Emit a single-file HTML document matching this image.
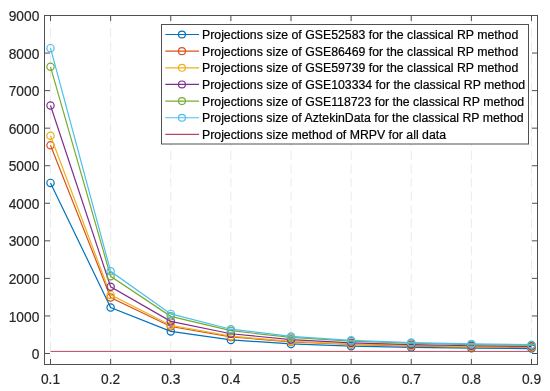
<!DOCTYPE html>
<html><head><meta charset="utf-8"><style>html,body{margin:0;padding:0;background:#fff;width:550px;height:391px;overflow:hidden;position:relative}</style></head>
<body>
<svg width="550" height="391" viewBox="0 0 550 391" style="position:absolute;left:0;top:0">
<rect width="550" height="391" fill="#fff"/>
<line x1="50.5" y1="15.5" x2="50.5" y2="364.5" stroke="#ebebeb" stroke-width="1" stroke-dasharray="9.3 4.32" stroke-dashoffset="1.02"/>
<line x1="110.625" y1="15.5" x2="110.625" y2="364.5" stroke="#ebebeb" stroke-width="1" stroke-dasharray="9.3 4.32" stroke-dashoffset="1.02"/>
<line x1="170.75" y1="15.5" x2="170.75" y2="364.5" stroke="#ebebeb" stroke-width="1" stroke-dasharray="9.3 4.32" stroke-dashoffset="1.02"/>
<line x1="230.87500000000003" y1="15.5" x2="230.87500000000003" y2="364.5" stroke="#ebebeb" stroke-width="1" stroke-dasharray="9.3 4.32" stroke-dashoffset="1.02"/>
<line x1="291.0" y1="15.5" x2="291.0" y2="364.5" stroke="#ebebeb" stroke-width="1" stroke-dasharray="9.3 4.32" stroke-dashoffset="1.02"/>
<line x1="351.125" y1="15.5" x2="351.125" y2="364.5" stroke="#ebebeb" stroke-width="1" stroke-dasharray="9.3 4.32" stroke-dashoffset="1.02"/>
<line x1="411.25" y1="15.5" x2="411.25" y2="364.5" stroke="#ebebeb" stroke-width="1" stroke-dasharray="9.3 4.32" stroke-dashoffset="1.02"/>
<line x1="471.37500000000006" y1="15.5" x2="471.37500000000006" y2="364.5" stroke="#ebebeb" stroke-width="1" stroke-dasharray="9.3 4.32" stroke-dashoffset="1.02"/>
<line x1="531.5" y1="15.5" x2="531.5" y2="364.5" stroke="#ebebeb" stroke-width="1" stroke-dasharray="9.3 4.32" stroke-dashoffset="1.02"/>
<polyline points="50.50,182.89 110.62,307.57 170.75,331.38 230.88,339.93 291.00,343.95 351.12,346.13 411.25,347.41 471.38,348.17 531.50,348.59" fill="none" stroke="#0072BD" stroke-width="1.2"/>
<circle cx="50.50" cy="182.89" r="3.65" fill="none" stroke="#0072BD" stroke-width="1.2"/>
<circle cx="110.62" cy="307.57" r="3.65" fill="none" stroke="#0072BD" stroke-width="1.2"/>
<circle cx="170.75" cy="331.38" r="3.65" fill="none" stroke="#0072BD" stroke-width="1.2"/>
<circle cx="230.88" cy="339.93" r="3.65" fill="none" stroke="#0072BD" stroke-width="1.2"/>
<circle cx="291.00" cy="343.95" r="3.65" fill="none" stroke="#0072BD" stroke-width="1.2"/>
<circle cx="351.12" cy="346.13" r="3.65" fill="none" stroke="#0072BD" stroke-width="1.2"/>
<circle cx="411.25" cy="347.41" r="3.65" fill="none" stroke="#0072BD" stroke-width="1.2"/>
<circle cx="471.38" cy="348.17" r="3.65" fill="none" stroke="#0072BD" stroke-width="1.2"/>
<circle cx="531.50" cy="348.59" r="3.65" fill="none" stroke="#0072BD" stroke-width="1.2"/>
<polyline points="50.50,145.29 110.62,297.44 170.75,326.51 230.88,336.94 291.00,341.84 351.12,344.50 411.25,346.06 471.38,346.99 531.50,347.50" fill="none" stroke="#D95319" stroke-width="1.2"/>
<circle cx="50.50" cy="145.29" r="3.65" fill="none" stroke="#D95319" stroke-width="1.2"/>
<circle cx="110.62" cy="297.44" r="3.65" fill="none" stroke="#D95319" stroke-width="1.2"/>
<circle cx="170.75" cy="326.51" r="3.65" fill="none" stroke="#D95319" stroke-width="1.2"/>
<circle cx="230.88" cy="336.94" r="3.65" fill="none" stroke="#D95319" stroke-width="1.2"/>
<circle cx="291.00" cy="341.84" r="3.65" fill="none" stroke="#D95319" stroke-width="1.2"/>
<circle cx="351.12" cy="344.50" r="3.65" fill="none" stroke="#D95319" stroke-width="1.2"/>
<circle cx="411.25" cy="346.06" r="3.65" fill="none" stroke="#D95319" stroke-width="1.2"/>
<circle cx="471.38" cy="346.99" r="3.65" fill="none" stroke="#D95319" stroke-width="1.2"/>
<circle cx="531.50" cy="347.50" r="3.65" fill="none" stroke="#D95319" stroke-width="1.2"/>
<polyline points="50.50,135.80 110.62,294.89 170.75,325.28 230.88,336.18 291.00,341.31 351.12,344.09 411.25,345.72 471.38,346.70 531.50,347.23" fill="none" stroke="#EDB120" stroke-width="1.2"/>
<circle cx="50.50" cy="135.80" r="3.65" fill="none" stroke="#EDB120" stroke-width="1.2"/>
<circle cx="110.62" cy="294.89" r="3.65" fill="none" stroke="#EDB120" stroke-width="1.2"/>
<circle cx="170.75" cy="325.28" r="3.65" fill="none" stroke="#EDB120" stroke-width="1.2"/>
<circle cx="230.88" cy="336.18" r="3.65" fill="none" stroke="#EDB120" stroke-width="1.2"/>
<circle cx="291.00" cy="341.31" r="3.65" fill="none" stroke="#EDB120" stroke-width="1.2"/>
<circle cx="351.12" cy="344.09" r="3.65" fill="none" stroke="#EDB120" stroke-width="1.2"/>
<circle cx="411.25" cy="345.72" r="3.65" fill="none" stroke="#EDB120" stroke-width="1.2"/>
<circle cx="471.38" cy="346.70" r="3.65" fill="none" stroke="#EDB120" stroke-width="1.2"/>
<circle cx="531.50" cy="347.23" r="3.65" fill="none" stroke="#EDB120" stroke-width="1.2"/>
<polyline points="50.50,105.50 110.62,286.73 170.75,321.35 230.88,333.77 291.00,339.61 351.12,342.78 411.25,344.64 471.38,345.75 531.50,346.36" fill="none" stroke="#7E2F8E" stroke-width="1.2"/>
<circle cx="50.50" cy="105.50" r="3.65" fill="none" stroke="#7E2F8E" stroke-width="1.2"/>
<circle cx="110.62" cy="286.73" r="3.65" fill="none" stroke="#7E2F8E" stroke-width="1.2"/>
<circle cx="170.75" cy="321.35" r="3.65" fill="none" stroke="#7E2F8E" stroke-width="1.2"/>
<circle cx="230.88" cy="333.77" r="3.65" fill="none" stroke="#7E2F8E" stroke-width="1.2"/>
<circle cx="291.00" cy="339.61" r="3.65" fill="none" stroke="#7E2F8E" stroke-width="1.2"/>
<circle cx="351.12" cy="342.78" r="3.65" fill="none" stroke="#7E2F8E" stroke-width="1.2"/>
<circle cx="411.25" cy="344.64" r="3.65" fill="none" stroke="#7E2F8E" stroke-width="1.2"/>
<circle cx="471.38" cy="345.75" r="3.65" fill="none" stroke="#7E2F8E" stroke-width="1.2"/>
<circle cx="531.50" cy="346.36" r="3.65" fill="none" stroke="#7E2F8E" stroke-width="1.2"/>
<polyline points="50.50,66.81 110.62,276.31 170.75,316.34 230.88,330.70 291.00,337.45 351.12,341.11 411.25,343.26 471.38,344.54 531.50,345.24" fill="none" stroke="#77AC30" stroke-width="1.2"/>
<circle cx="50.50" cy="66.81" r="3.65" fill="none" stroke="#77AC30" stroke-width="1.2"/>
<circle cx="110.62" cy="276.31" r="3.65" fill="none" stroke="#77AC30" stroke-width="1.2"/>
<circle cx="170.75" cy="316.34" r="3.65" fill="none" stroke="#77AC30" stroke-width="1.2"/>
<circle cx="230.88" cy="330.70" r="3.65" fill="none" stroke="#77AC30" stroke-width="1.2"/>
<circle cx="291.00" cy="337.45" r="3.65" fill="none" stroke="#77AC30" stroke-width="1.2"/>
<circle cx="351.12" cy="341.11" r="3.65" fill="none" stroke="#77AC30" stroke-width="1.2"/>
<circle cx="411.25" cy="343.26" r="3.65" fill="none" stroke="#77AC30" stroke-width="1.2"/>
<circle cx="471.38" cy="344.54" r="3.65" fill="none" stroke="#77AC30" stroke-width="1.2"/>
<circle cx="531.50" cy="345.24" r="3.65" fill="none" stroke="#77AC30" stroke-width="1.2"/>
<polyline points="50.50,48.17 110.62,271.30 170.75,313.92 230.88,329.21 291.00,336.40 351.12,340.31 411.25,342.60 471.38,343.96 531.50,344.70" fill="none" stroke="#4DBEEE" stroke-width="1.2"/>
<circle cx="50.50" cy="48.17" r="3.65" fill="none" stroke="#4DBEEE" stroke-width="1.2"/>
<circle cx="110.62" cy="271.30" r="3.65" fill="none" stroke="#4DBEEE" stroke-width="1.2"/>
<circle cx="170.75" cy="313.92" r="3.65" fill="none" stroke="#4DBEEE" stroke-width="1.2"/>
<circle cx="230.88" cy="329.21" r="3.65" fill="none" stroke="#4DBEEE" stroke-width="1.2"/>
<circle cx="291.00" cy="336.40" r="3.65" fill="none" stroke="#4DBEEE" stroke-width="1.2"/>
<circle cx="351.12" cy="340.31" r="3.65" fill="none" stroke="#4DBEEE" stroke-width="1.2"/>
<circle cx="411.25" cy="342.60" r="3.65" fill="none" stroke="#4DBEEE" stroke-width="1.2"/>
<circle cx="471.38" cy="343.96" r="3.65" fill="none" stroke="#4DBEEE" stroke-width="1.2"/>
<circle cx="531.50" cy="344.70" r="3.65" fill="none" stroke="#4DBEEE" stroke-width="1.2"/>
<line x1="50.50" y1="351.4" x2="531.50" y2="351.4" stroke="#b8485f" stroke-width="1"/>
<rect x="44.5" y="15.5" width="493.0" height="349.0" fill="none" stroke="#505050" stroke-width="1"/>
<line x1="50.5" y1="364.5" x2="50.5" y2="359.0" stroke="#505050" stroke-width="1"/>
<line x1="50.5" y1="15.5" x2="50.5" y2="21.0" stroke="#505050" stroke-width="1"/>
<text transform="translate(50.500,384) scale(0.93,1)" text-anchor="middle" font-family="Liberation Sans, Arial, sans-serif" font-size="14.8" fill="#262626" stroke="#262626" stroke-width="0.2">0.1</text>
<line x1="110.625" y1="364.5" x2="110.625" y2="359.0" stroke="#505050" stroke-width="1"/>
<line x1="110.625" y1="15.5" x2="110.625" y2="21.0" stroke="#505050" stroke-width="1"/>
<text transform="translate(110.625,384) scale(0.93,1)" text-anchor="middle" font-family="Liberation Sans, Arial, sans-serif" font-size="14.8" fill="#262626" stroke="#262626" stroke-width="0.2">0.2</text>
<line x1="170.75" y1="364.5" x2="170.75" y2="359.0" stroke="#505050" stroke-width="1"/>
<line x1="170.75" y1="15.5" x2="170.75" y2="21.0" stroke="#505050" stroke-width="1"/>
<text transform="translate(170.750,384) scale(0.93,1)" text-anchor="middle" font-family="Liberation Sans, Arial, sans-serif" font-size="14.8" fill="#262626" stroke="#262626" stroke-width="0.2">0.3</text>
<line x1="230.87500000000003" y1="364.5" x2="230.87500000000003" y2="359.0" stroke="#505050" stroke-width="1"/>
<line x1="230.87500000000003" y1="15.5" x2="230.87500000000003" y2="21.0" stroke="#505050" stroke-width="1"/>
<text transform="translate(230.875,384) scale(0.93,1)" text-anchor="middle" font-family="Liberation Sans, Arial, sans-serif" font-size="14.8" fill="#262626" stroke="#262626" stroke-width="0.2">0.4</text>
<line x1="291.0" y1="364.5" x2="291.0" y2="359.0" stroke="#505050" stroke-width="1"/>
<line x1="291.0" y1="15.5" x2="291.0" y2="21.0" stroke="#505050" stroke-width="1"/>
<text transform="translate(291.000,384) scale(0.93,1)" text-anchor="middle" font-family="Liberation Sans, Arial, sans-serif" font-size="14.8" fill="#262626" stroke="#262626" stroke-width="0.2">0.5</text>
<line x1="351.125" y1="364.5" x2="351.125" y2="359.0" stroke="#505050" stroke-width="1"/>
<line x1="351.125" y1="15.5" x2="351.125" y2="21.0" stroke="#505050" stroke-width="1"/>
<text transform="translate(351.125,384) scale(0.93,1)" text-anchor="middle" font-family="Liberation Sans, Arial, sans-serif" font-size="14.8" fill="#262626" stroke="#262626" stroke-width="0.2">0.6</text>
<line x1="411.25" y1="364.5" x2="411.25" y2="359.0" stroke="#505050" stroke-width="1"/>
<line x1="411.25" y1="15.5" x2="411.25" y2="21.0" stroke="#505050" stroke-width="1"/>
<text transform="translate(411.250,384) scale(0.93,1)" text-anchor="middle" font-family="Liberation Sans, Arial, sans-serif" font-size="14.8" fill="#262626" stroke="#262626" stroke-width="0.2">0.7</text>
<line x1="471.37500000000006" y1="364.5" x2="471.37500000000006" y2="359.0" stroke="#505050" stroke-width="1"/>
<line x1="471.37500000000006" y1="15.5" x2="471.37500000000006" y2="21.0" stroke="#505050" stroke-width="1"/>
<text transform="translate(471.375,384) scale(0.93,1)" text-anchor="middle" font-family="Liberation Sans, Arial, sans-serif" font-size="14.8" fill="#262626" stroke="#262626" stroke-width="0.2">0.8</text>
<line x1="531.5" y1="364.5" x2="531.5" y2="359.0" stroke="#505050" stroke-width="1"/>
<line x1="531.5" y1="15.5" x2="531.5" y2="21.0" stroke="#505050" stroke-width="1"/>
<text transform="translate(531.500,384) scale(0.93,1)" text-anchor="middle" font-family="Liberation Sans, Arial, sans-serif" font-size="14.8" fill="#262626" stroke="#262626" stroke-width="0.2">0.9</text>
<line x1="44.5" y1="353.50" x2="50.0" y2="353.50" stroke="#505050" stroke-width="1"/>
<line x1="537.5" y1="353.50" x2="532.0" y2="353.50" stroke="#505050" stroke-width="1"/>
<text transform="translate(39.3,359.15) scale(0.93,1)" text-anchor="end" font-family="Liberation Sans, Arial, sans-serif" font-size="14.8" fill="#262626" stroke="#262626" stroke-width="0.2">0</text>
<line x1="44.5" y1="315.94" x2="50.0" y2="315.94" stroke="#505050" stroke-width="1"/>
<line x1="537.5" y1="315.94" x2="532.0" y2="315.94" stroke="#505050" stroke-width="1"/>
<text transform="translate(39.3,321.59) scale(0.93,1)" text-anchor="end" font-family="Liberation Sans, Arial, sans-serif" font-size="14.8" fill="#262626" stroke="#262626" stroke-width="0.2">1000</text>
<line x1="44.5" y1="278.39" x2="50.0" y2="278.39" stroke="#505050" stroke-width="1"/>
<line x1="537.5" y1="278.39" x2="532.0" y2="278.39" stroke="#505050" stroke-width="1"/>
<text transform="translate(39.3,284.04) scale(0.93,1)" text-anchor="end" font-family="Liberation Sans, Arial, sans-serif" font-size="14.8" fill="#262626" stroke="#262626" stroke-width="0.2">2000</text>
<line x1="44.5" y1="240.83" x2="50.0" y2="240.83" stroke="#505050" stroke-width="1"/>
<line x1="537.5" y1="240.83" x2="532.0" y2="240.83" stroke="#505050" stroke-width="1"/>
<text transform="translate(39.3,246.48) scale(0.93,1)" text-anchor="end" font-family="Liberation Sans, Arial, sans-serif" font-size="14.8" fill="#262626" stroke="#262626" stroke-width="0.2">3000</text>
<line x1="44.5" y1="203.28" x2="50.0" y2="203.28" stroke="#505050" stroke-width="1"/>
<line x1="537.5" y1="203.28" x2="532.0" y2="203.28" stroke="#505050" stroke-width="1"/>
<text transform="translate(39.3,208.93) scale(0.93,1)" text-anchor="end" font-family="Liberation Sans, Arial, sans-serif" font-size="14.8" fill="#262626" stroke="#262626" stroke-width="0.2">4000</text>
<line x1="44.5" y1="165.72" x2="50.0" y2="165.72" stroke="#505050" stroke-width="1"/>
<line x1="537.5" y1="165.72" x2="532.0" y2="165.72" stroke="#505050" stroke-width="1"/>
<text transform="translate(39.3,171.37) scale(0.93,1)" text-anchor="end" font-family="Liberation Sans, Arial, sans-serif" font-size="14.8" fill="#262626" stroke="#262626" stroke-width="0.2">5000</text>
<line x1="44.5" y1="128.17" x2="50.0" y2="128.17" stroke="#505050" stroke-width="1"/>
<line x1="537.5" y1="128.17" x2="532.0" y2="128.17" stroke="#505050" stroke-width="1"/>
<text transform="translate(39.3,133.82) scale(0.93,1)" text-anchor="end" font-family="Liberation Sans, Arial, sans-serif" font-size="14.8" fill="#262626" stroke="#262626" stroke-width="0.2">6000</text>
<line x1="44.5" y1="90.61" x2="50.0" y2="90.61" stroke="#505050" stroke-width="1"/>
<line x1="537.5" y1="90.61" x2="532.0" y2="90.61" stroke="#505050" stroke-width="1"/>
<text transform="translate(39.3,96.26) scale(0.93,1)" text-anchor="end" font-family="Liberation Sans, Arial, sans-serif" font-size="14.8" fill="#262626" stroke="#262626" stroke-width="0.2">7000</text>
<line x1="44.5" y1="53.06" x2="50.0" y2="53.06" stroke="#505050" stroke-width="1"/>
<line x1="537.5" y1="53.06" x2="532.0" y2="53.06" stroke="#505050" stroke-width="1"/>
<text transform="translate(39.3,58.71) scale(0.93,1)" text-anchor="end" font-family="Liberation Sans, Arial, sans-serif" font-size="14.8" fill="#262626" stroke="#262626" stroke-width="0.2">8000</text>
<line x1="44.5" y1="15.50" x2="50.0" y2="15.50" stroke="#505050" stroke-width="1"/>
<line x1="537.5" y1="15.50" x2="532.0" y2="15.50" stroke="#505050" stroke-width="1"/>
<text transform="translate(39.3,21.15) scale(0.93,1)" text-anchor="end" font-family="Liberation Sans, Arial, sans-serif" font-size="14.8" fill="#262626" stroke="#262626" stroke-width="0.2">9000</text>
<rect x="161.5" y="24.5" width="367.0" height="119.5" fill="#fff" stroke="#505050" stroke-width="1"/>
<line x1="165.3" y1="34.50" x2="199.1" y2="34.50" stroke="#0072BD" stroke-width="1.2"/>
<circle cx="181.95" cy="34.50" r="3.45" fill="none" stroke="#0072BD" stroke-width="1.2"/>
<text x="202" y="39.00" font-family="Liberation Sans, Arial, sans-serif" font-size="12.3" fill="#000" stroke="#000" stroke-width="0.2">Projections size of GSE52583 for the classical RP method</text>
<line x1="165.3" y1="51.15" x2="199.1" y2="51.15" stroke="#D95319" stroke-width="1.2"/>
<circle cx="181.95" cy="51.15" r="3.45" fill="none" stroke="#D95319" stroke-width="1.2"/>
<text x="202" y="55.65" font-family="Liberation Sans, Arial, sans-serif" font-size="12.3" fill="#000" stroke="#000" stroke-width="0.2">Projections size of GSE86469 for the classical RP method</text>
<line x1="165.3" y1="67.80" x2="199.1" y2="67.80" stroke="#EDB120" stroke-width="1.2"/>
<circle cx="181.95" cy="67.80" r="3.45" fill="none" stroke="#EDB120" stroke-width="1.2"/>
<text x="202" y="72.30" font-family="Liberation Sans, Arial, sans-serif" font-size="12.3" fill="#000" stroke="#000" stroke-width="0.2">Projections size of GSE59739 for the classical RP method</text>
<line x1="165.3" y1="84.45" x2="199.1" y2="84.45" stroke="#7E2F8E" stroke-width="1.2"/>
<circle cx="181.95" cy="84.45" r="3.45" fill="none" stroke="#7E2F8E" stroke-width="1.2"/>
<text x="202" y="88.95" font-family="Liberation Sans, Arial, sans-serif" font-size="12.3" fill="#000" stroke="#000" stroke-width="0.2">Projections size of GSE103334 for the classical RP method</text>
<line x1="165.3" y1="101.10" x2="199.1" y2="101.10" stroke="#77AC30" stroke-width="1.2"/>
<circle cx="181.95" cy="101.10" r="3.45" fill="none" stroke="#77AC30" stroke-width="1.2"/>
<text x="202" y="105.60" font-family="Liberation Sans, Arial, sans-serif" font-size="12.3" fill="#000" stroke="#000" stroke-width="0.2">Projections size of GSE118723 for the classical RP method</text>
<line x1="165.3" y1="117.75" x2="199.1" y2="117.75" stroke="#4DBEEE" stroke-width="1.2"/>
<circle cx="181.95" cy="117.75" r="3.45" fill="none" stroke="#4DBEEE" stroke-width="1.2"/>
<text x="202" y="122.25" font-family="Liberation Sans, Arial, sans-serif" font-size="12.3" fill="#000" stroke="#000" stroke-width="0.2">Projections size of AztekinData for the classical RP method</text>
<line x1="165.3" y1="134.40" x2="199.1" y2="134.40" stroke="#b8485f" stroke-width="1.2"/>
<text x="202" y="138.90" font-family="Liberation Sans, Arial, sans-serif" font-size="12.3" fill="#000" stroke="#000" stroke-width="0.2">Projections size method of MRPV for all data</text>
</svg>
</body></html>
